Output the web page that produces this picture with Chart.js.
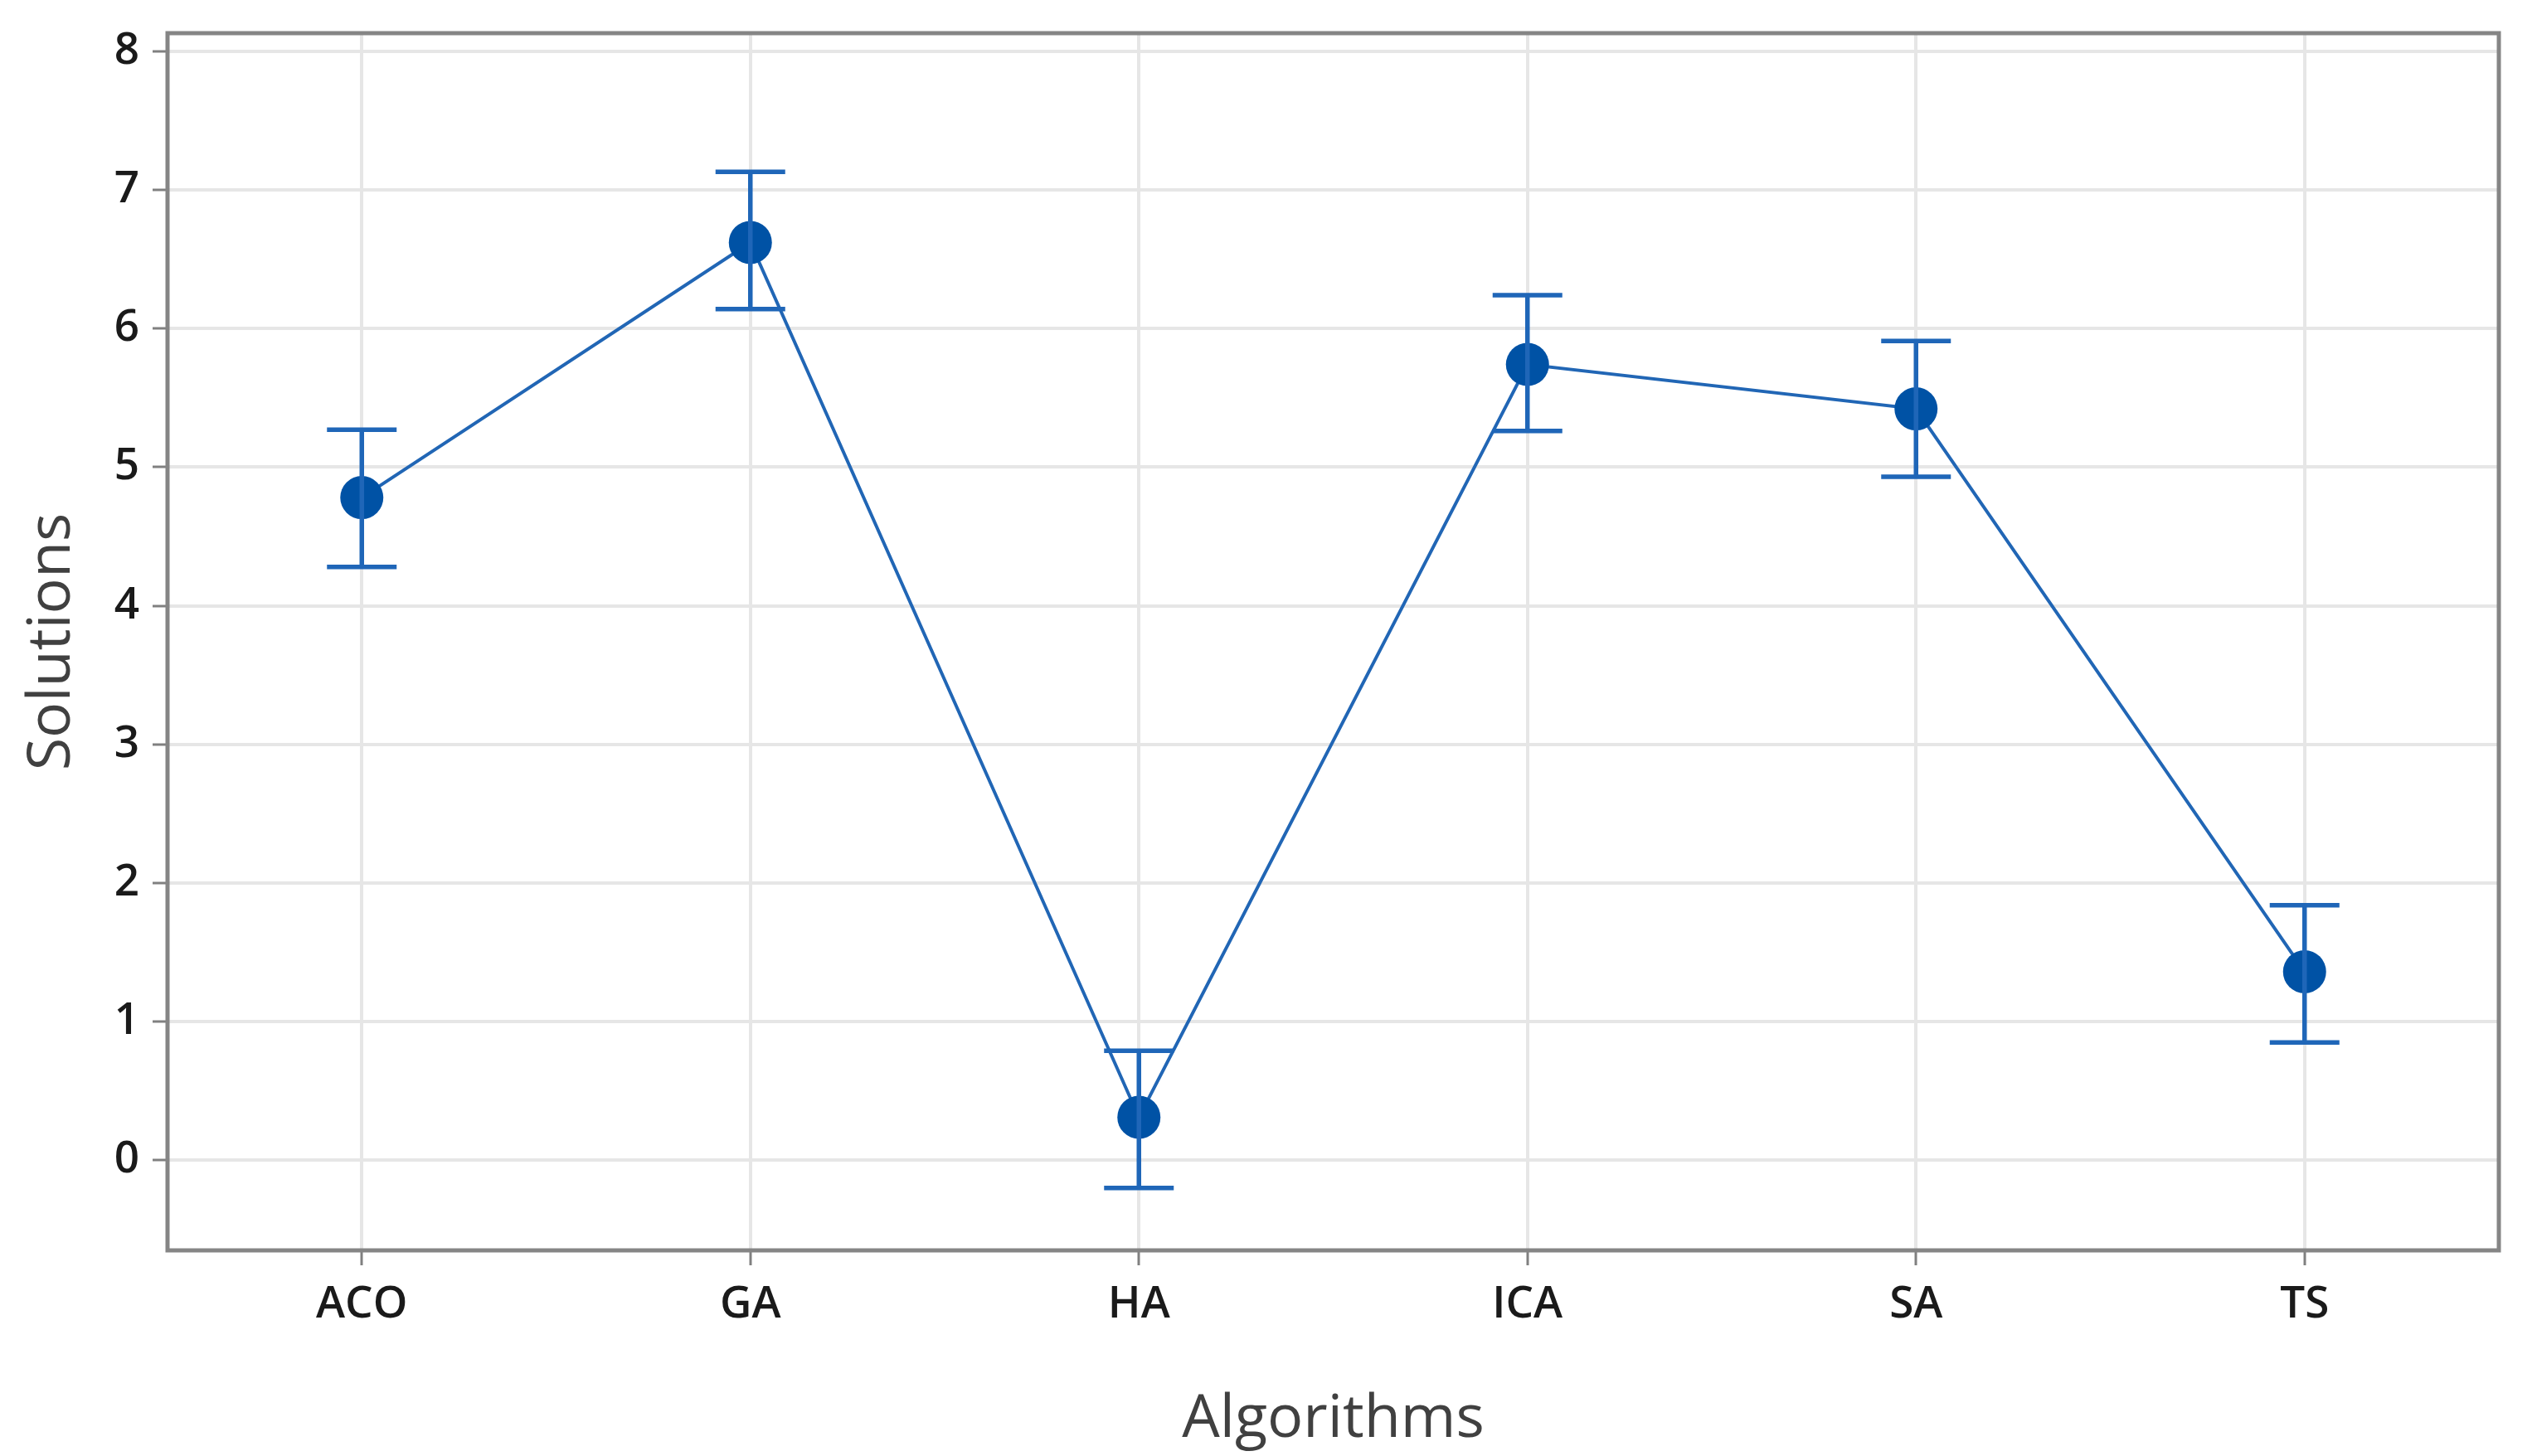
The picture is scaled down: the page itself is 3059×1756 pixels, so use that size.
<!DOCTYPE html>
<html>
<head>
<meta charset="utf-8">
<script src="https://cdn.jsdelivr.net/npm/chart.js@4/dist/chart.umd.min.js"></script>
<style>
html,body{margin:0;padding:0;background:#fff;}
#wrap{width:3059px;height:1756px;}
</style>
</head>
<body>
<div id="wrap"><canvas id="c" width="3059" height="1756"></canvas></div>
<script>
const categories = ["ACO", "GA", "HA", "ICA", "SA", "TS"];
const means = [4.78, 6.62, 0.31, 5.74, 5.42, 1.36];
const lowerCI = [4.28, 6.14, -0.20, 5.26, 4.93, 0.85];
const upperCI = [5.27, 7.13, 0.79, 6.24, 5.91, 1.84];
const yTickValues = [0, 1, 2, 3, 4, 5, 6, 7, 8];
const xTitle = "Algorithms";
const yTitle = "Solutions";

const FONT = "'Open Sans', 'Noto Sans', sans-serif";

const errorBars = {
  id: 'errorBars',
  afterDatasetsDraw(chart) {
    const ctx = chart.ctx, xs = chart.scales.x, ys = chart.scales.y;
    ctx.save();
    ctx.strokeStyle = '#1f66b8';
    ctx.lineWidth = 5.5;
    categories.forEach((c, i) => {
      const x = xs.getPixelForValue(i);
      const yl = ys.getPixelForValue(lowerCI[i]);
      const yu = ys.getPixelForValue(upperCI[i]);
      const w = 42;
      ctx.beginPath();
      ctx.moveTo(x, yl); ctx.lineTo(x, yu);
      ctx.moveTo(x - w, yl); ctx.lineTo(x + w, yl);
      ctx.moveTo(x - w, yu); ctx.lineTo(x + w, yu);
      ctx.stroke();
    });
    ctx.restore();
  }
};

const frame = {
  id: 'frame',
  beforeDatasetsDraw(chart) {
    const a = chart.chartArea, ctx = chart.ctx;
    ctx.save();
    ctx.strokeStyle = '#858585';
    ctx.lineWidth = 5;
    ctx.strokeRect(a.left, a.top, a.right - a.left, a.bottom - a.top);
    ctx.restore();
  }
};

new Chart(document.getElementById('c'), {
  type: 'line',
  data: {
    labels: categories,
    datasets: [{
      data: means,
      borderColor: '#2166b5',
      borderWidth: 4,
      pointBackgroundColor: '#0052a5',
      pointBorderColor: '#0052a5',
      pointRadius: 26,
      pointBorderWidth: 0,
      pointHoverRadius: 26,
      tension: 0
    }]
  },
  options: {
    responsive: false,
    animation: false,
    devicePixelRatio: 1,
    events: [],
    layout: { padding: { left: 0, top: 40, right: 46, bottom: 0 } },
    plugins: { legend: { display: false }, tooltip: { enabled: false } },
    scales: {
      x: {
        type: 'category',
        offset: true,
        grid: {
          offset: false,
          color: '#e6e6e6',
          lineWidth: 4,
          drawTicks: true,
          tickLength: 18,
          tickColor: '#808080',
          tickWidth: 3
        },
        border: { display: false },
        ticks: {
          color: '#1a1a1a',
          font: { family: FONT, size: 53, weight: '600' },
          padding: 16,
          maxRotation: 0
        },
        title: {
          display: true,
          text: xTitle,
          color: '#404040',
          font: { family: FONT, size: 72, weight: '500' },
          padding: { top: 20, bottom: 0 }
        },
        afterFit(s) { s.height = 248; }
      },
      y: {
        min: -0.65,
        max: 8.13,
        afterBuildTicks(s) {
          s.ticks = yTickValues.map(v => ({ value: v }));
        },
        grid: {
          color: '#e6e6e6',
          lineWidth: 4,
          drawTicks: true,
          tickLength: 18,
          tickColor: '#808080',
          tickWidth: 3
        },
        border: { display: false },
        ticks: {
          color: '#1a1a1a',
          font: { family: FONT, size: 53, weight: '600', lineHeight: 0.9 },
          padding: 16
        },
        title: {
          display: true,
          text: yTitle,
          color: '#404040',
          font: { family: FONT, size: 72, weight: '500' },
          padding: { top: 20, bottom: 0 }
        },
        afterFit(s) { s.width = 202; }
      }
    }
  },
  plugins: [frame, errorBars]
});
</script>
</body>
</html>
